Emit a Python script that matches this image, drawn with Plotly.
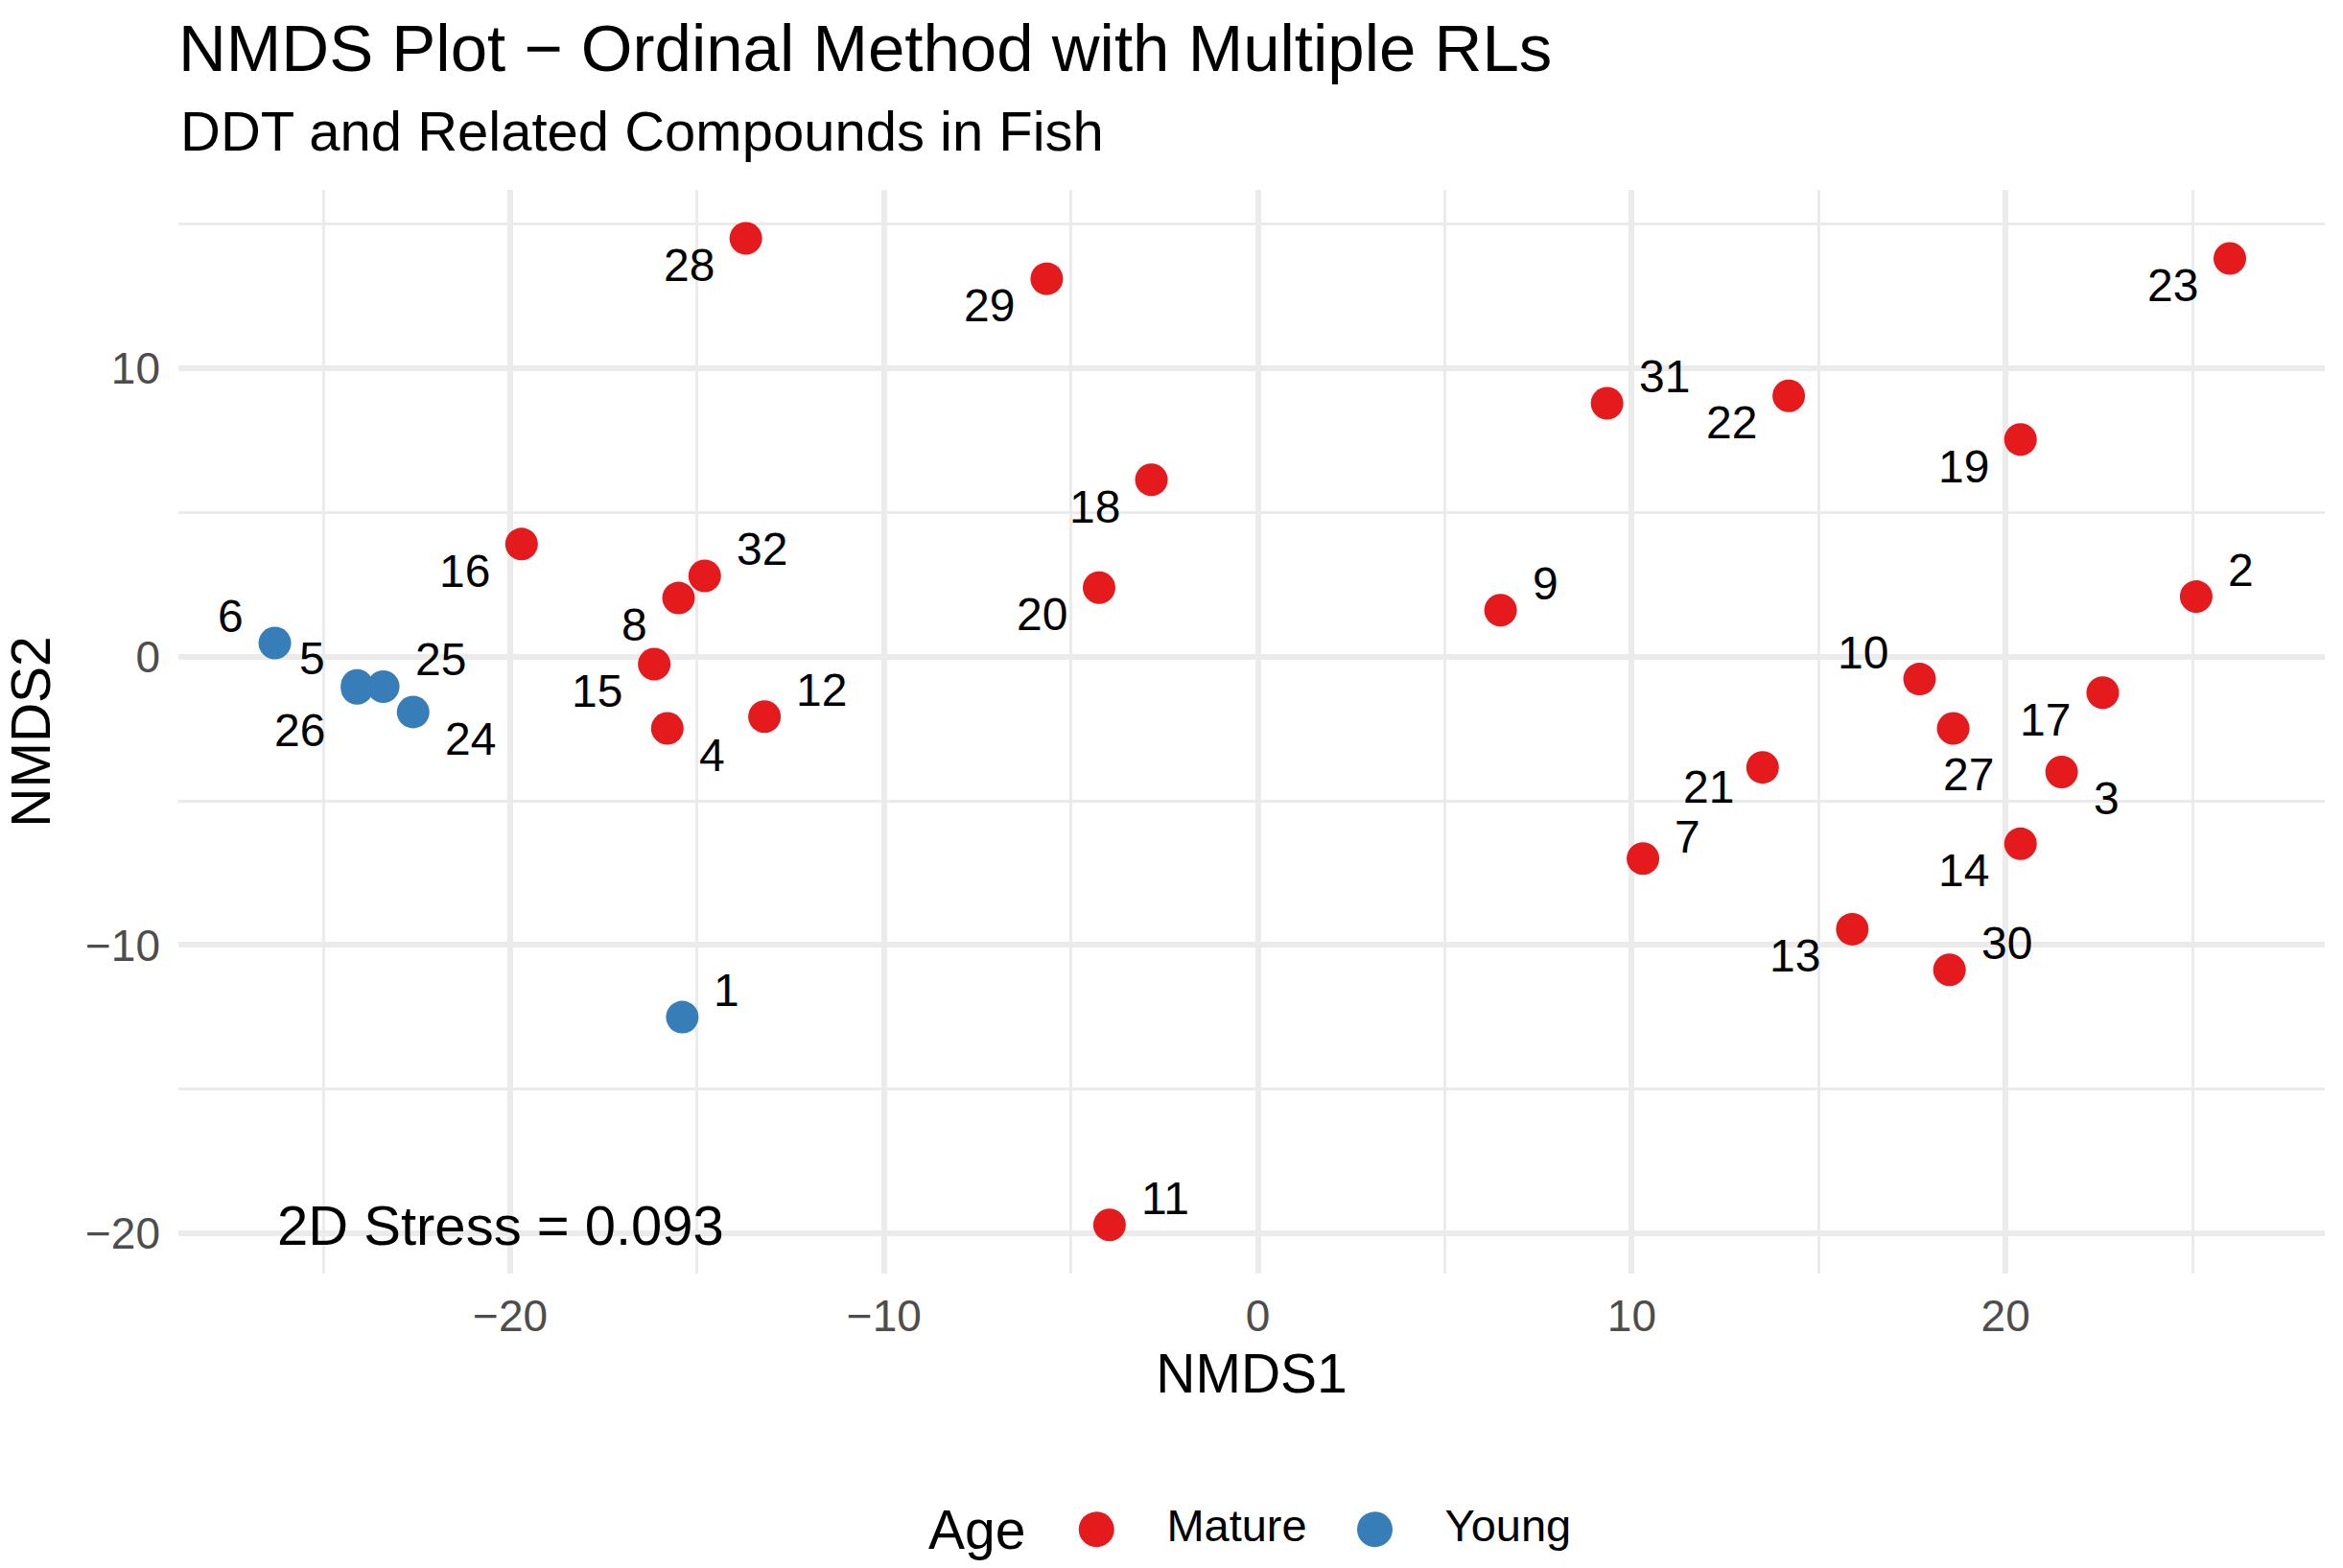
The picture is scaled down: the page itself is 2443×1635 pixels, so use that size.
import plotly.graph_objects as go

# NMDS scores
sample_id = [str(i) for i in range(1, 33)]
nmds1 = [-15.4, 25.1, 21.5, -15.8, -24.1, -26.3, 10.3, -15.5, 6.49, 17.7,
         -3.97, -13.2, 15.9, 20.4, -16.15, -19.7, 22.6, -2.85, 20.4, -4.25,
         13.5, 14.2, 26.0, -22.6, -23.4, -24.1, 18.6, -13.7, -5.65, 18.5,
         9.34, -14.8]
nmds2 = [-12.5, 2.08, -4.0, -2.49, -1.0, 0.47, -7.0, 2.03, 1.61, -0.78,
         -19.7, -2.08, -9.45, -6.49, -0.26, 3.9, -1.25, 6.13, 7.53, 2.39,
         -3.84, 9.04, 13.8, -1.92, -1.04, -1.1, -2.49, 14.5, 13.1, -10.86,
         8.78, 2.8]
age = ["Young", "Mature", "Mature", "Mature", "Young", "Young", "Mature", "Mature",
       "Mature", "Mature", "Mature", "Mature", "Mature", "Mature", "Mature", "Mature",
       "Mature", "Mature", "Mature", "Mature", "Mature", "Mature", "Mature", "Young",
       "Young", "Young", "Mature", "Mature", "Mature", "Mature", "Mature", "Mature"]
stress = 0.093

# where the repelled label sits relative to its point
label_side = ["ur", "ur", "dr", "dr", "ul", "ul", "ur2", "dl", "ur", "ul",
              "ur", "ur", "dl", "dl", "dl", "dl", "dl", "dl", "dl", "dl",
              "dl3", "dl", "dl", "dr", "ur", "dl2", "d", "dl", "dl", "ur",
              "ur", "ur"]

colors = {"Mature": "#E41A1C", "Young": "#377EB8"}
FONT = "Liberation Sans, Arial, sans-serif"
W, H = 2443, 1635
L, R, T, B = 186, 19, 198, 307

# label offsets in pixels: (xanchor, xshift, yshift)
sides = {
    "ur": ("left", 31, 28),
    "ur2": ("left", 31, 23),
    "ul": ("right", -31, 28),
    "dr": ("left", 31, -28),
    "dl": ("right", -31, -28),
    "dl2": ("right", -31, -44),
    "dl3": ("right", -28, -20),
    "d": ("left", -13, -48),
}

fig = go.Figure()

for grp in ["Mature", "Young"]:
    idx = [i for i, a in enumerate(age) if a == grp]
    fig.add_trace(go.Scatter(
        x=[nmds1[i] for i in idx],
        y=[nmds2[i] for i in idx],
        mode="markers",
        marker=dict(size=34, color=colors[grp]),
        name=grp, legendgroup=grp, showlegend=False,
    ))
    # legend entry with a full-size key dot (plotly caps legend symbols)
    fig.add_trace(go.Scatter(
        x=[None], y=[None], mode="markers",
        marker=dict(size=1, color="rgba(0,0,0,0)"),
        name=f"<sub><span style='color:{colors[grp]};font-size:86px'>\u25CF</span></sub>"
             f"<span style='font-size:47px'>\u2003{grp}</span>",
        legendgroup=grp, showlegend=True,
    ))

annotations = []
for i, s in enumerate(sample_id):
    anchor, xs, ys = sides[label_side[i]]
    annotations.append(dict(
        x=nmds1[i], y=nmds2[i], text=s, showarrow=False,
        xanchor=anchor, yanchor="middle", xshift=xs, yshift=ys,
        font=dict(family=FONT, size=48, color="black"),
    ))

annotations.append(dict(
    x=min(nmds1), y=min(nmds2), text=f"2D Stress = {stress}", showarrow=False,
    xanchor="left", yanchor="middle",
    font=dict(family=FONT, size=58, color="black"),
))

plot_h = H - T - B
annotations.append(dict(
    x=0, xref="paper", y=(H - B - 137) / plot_h, yref="paper",
    text="DDT and Related Compounds in Fish",
    showarrow=False, xanchor="left", yanchor="middle",
    font=dict(family=FONT, size=58, color="black"),
))

fig.update_layout(
    width=W, height=H,
    # keep the legend from pushing the bottom margin (and squashing the panel)
    margin=dict(l=L, r=R, t=T, b=B, autoexpand=False),
    paper_bgcolor="white", plot_bgcolor="white",
    font=dict(family=FONT, color="black"),
    title=dict(
        text="NMDS Plot \u2212 Ordinal Method with Multiple RLs",
        x=L / W, xanchor="left", xref="container",
        y=1 - 50 / H, yanchor="middle", yref="container",
        font=dict(family=FONT, size=69, color="black"),
    ),
    xaxis=dict(
        title=dict(text="NMDS1", font=dict(size=57, color="black"), standoff=15),
        range=[-28.88, 28.54], dtick=10, tick0=0,
        showgrid=True, gridcolor="#EBEBEB", gridwidth=5.5,
        minor=dict(dtick=5, tick0=0, showgrid=True, gridcolor="#EBEBEB", gridwidth=3),
        zeroline=False, showline=False, ticks="",
        tickfont=dict(size=46, color="#4D4D4D"),
        ticklabelstandoff=13,
        tickformat="d",
        automargin=False,
    ),
    yaxis=dict(
        title=dict(text="NMDS2", font=dict(size=57, color="black"), standoff=20),
        range=[-21.39, 16.18], dtick=10, tick0=0,
        showgrid=True, gridcolor="#EBEBEB", gridwidth=5.5,
        minor=dict(dtick=5, tick0=0, showgrid=True, gridcolor="#EBEBEB", gridwidth=3),
        zeroline=False, showline=False, ticks="",
        tickfont=dict(size=46, color="#4D4D4D"),
        ticklabelstandoff=18,
        tickformat="d",
        automargin=False,
    ),
    legend=dict(
        orientation="h", x=0.5, xanchor="center", y=(B - 50) / plot_h * -1, yanchor="middle",
        title=dict(text="Age", side="left", font=dict(size=57, color="black")),
        font=dict(size=57, color="black"),
        itemwidth=30,
    ),
    annotations=annotations,
)

page_fix = (
    "document.documentElement.style.margin='0';"
    "document.documentElement.style.overflow='hidden';"
    "document.body.style.margin='0';"
    "document.body.style.overflow='hidden';"
    "document.body.style.height='1635px';"
)
fig.write_html("out.html", config={"displayModeBar": False}, post_script=page_fix)
